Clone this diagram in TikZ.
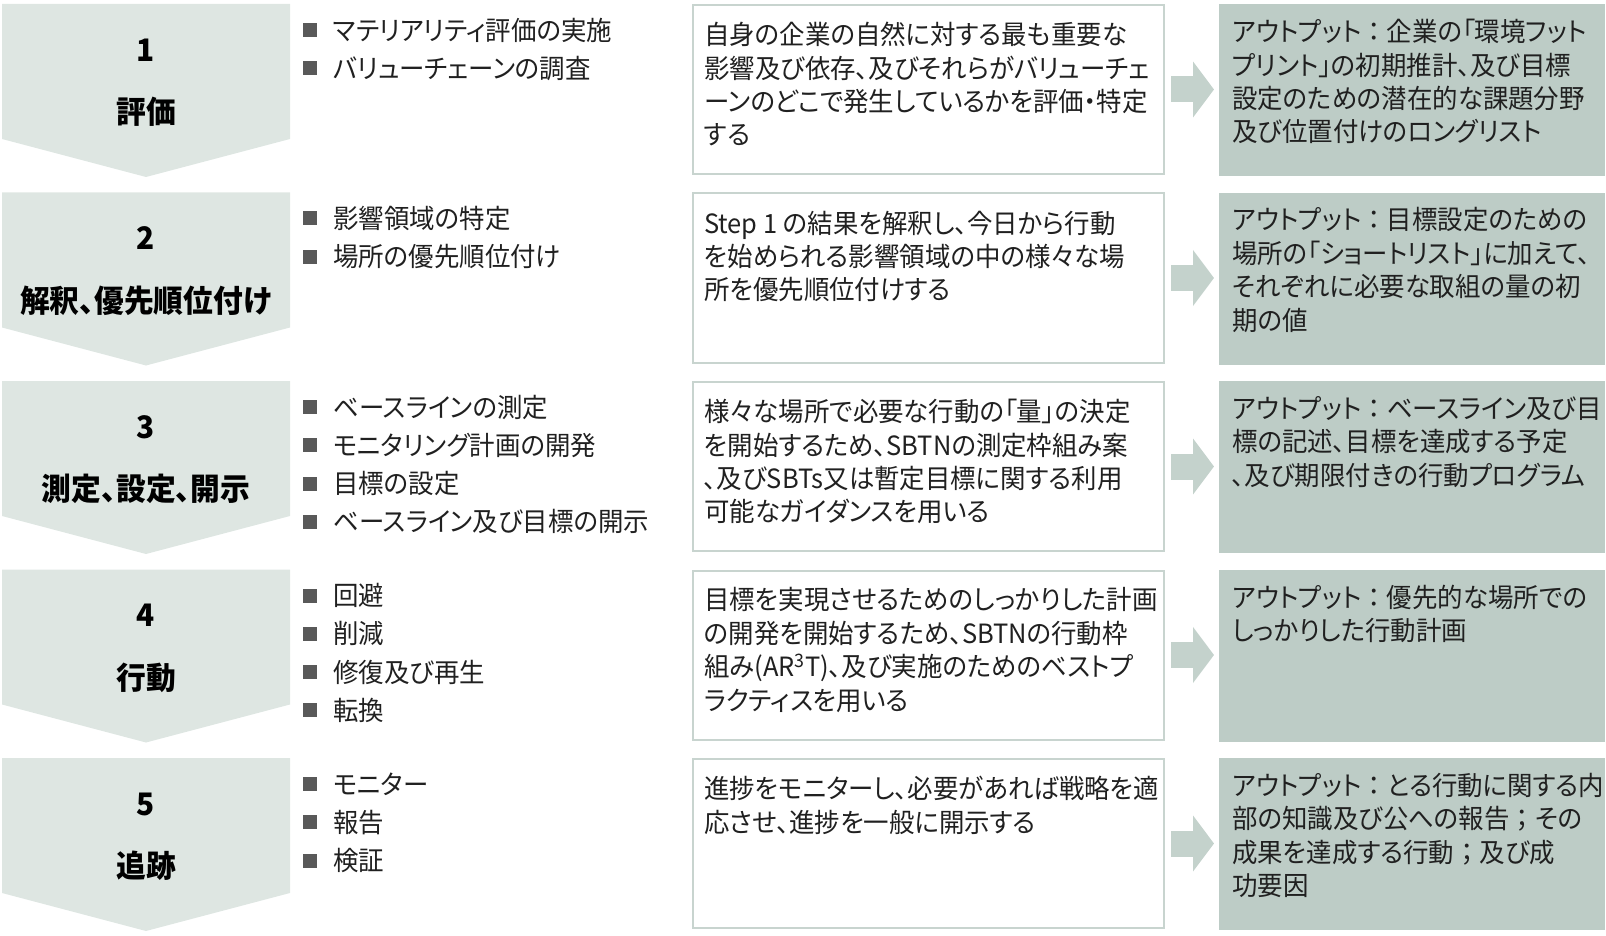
\documentclass[tikz,border=0pt]{standalone}
\usepackage{fontspec}
\setmainfont{Noto Sans CJK JP}[RawFeature=+palt, FakeStretch=0.96]
\newfontfamily\jpfull{Noto Sans CJK JP}[FakeStretch=0.96]
\usepackage{xcolor}
\usetikzlibrary{calc,positioning,arrows.meta}
\definecolor{chevfill}{RGB}{222,230,226}
\definecolor{outfill}{RGB}{189,204,198}
\definecolor{arrfill}{RGB}{196,210,204}
\definecolor{midline}{RGB}{200,212,207}
\definecolor{bulletgray}{RGB}{89,89,89}
\definecolor{txt}{RGB}{32,32,32}
\newcommand{\bodyfont}{\fontsize{26.5}{33.4}\selectfont}
\newcommand{\stepfont}{\fontsize{31}{36}\selectfont\bfseries}
\newcommand{\fcolon}{{\jpfull ：}}
\newcommand{\fsemi}{{\jpfull ；}}
\tikzset{
  midbox/.style={draw=midline, line width=2pt, fill=white, minimum width=471pt,
    minimum height=169pt, anchor=north west, inner sep=0pt},
  outbox/.style={fill=outfill, minimum width=386pt, minimum height=172pt,
    anchor=north west, inner sep=0pt},
  boxtext/.style={anchor=north west, align=left, inner sep=0pt, text=txt, font=\bodyfont},
  sqbullet/.style={fill=bulletgray, minimum size=14pt, inner sep=0pt},
  itemtext/.style={anchor=west, inner sep=0pt, text=txt, font=\bodyfont},
  steplabel/.style={font=\stepfont, text=black, inner sep=0pt},
  outarrow/.style={draw=arrfill, line width=26pt, -{Triangle[length=21pt,width=55pt]},
    shorten <=6pt, shorten >=5pt}
}
\begin{document}
\begin{tikzpicture}[x=1pt,y=-1pt]
\useasboundingbox (0,0) rectangle (1606,936);
\foreach \n/\lab in {1/評価, 2/解釈、優先順位付け, 3/測定、設定、開示, 4/行動, 5/追跡}
{
\pgfmathsetmacro\t{4+188.5*(\n-1)}
\path [fill=chevfill] (2,\t) -- (290,\t) -- (290,\t+135) -- (146,\t+173) -- (2,\t+135) -- cycle;
\node[steplabel] (num\n) at (146,\t+46) {\n};
\node[steplabel] (lab\n) at (146,\t+108) {\lab};
\node[midbox] (mid\n) at (692,\t) {};
\node[outbox] (out\n) at (1219,\t) {};
}
\foreach \n/\k/\entry in {1/0/マテリアリティ評価の実施, 1/1/バリューチェーンの調査,
  2/0/影響領域の特定, 2/1/場所の優先順位付け,
  3/0/ベースラインの測定, 3/1/モニタリング計画の開発, 3/2/目標の設定, 3/3/ベースライン及び目標の開示,
  4/0/回避, 4/1/削減, 4/2/修復及び再生, 4/3/転換,
  5/0/モニター, 5/1/報告, 5/2/検証}
{
\node[sqbullet] (sq\n\k) at (310,{4+188.5*(\n-1)+26+38.3*\k}) {};
\node[itemtext, right=16pt of sq\n\k] (item\n\k) {\entry};
}
\node[boxtext] (midtxt1) at ($(mid1.north west)+(12,18)$)
  {自身の企業の自然に対する最も重要な\\影響及び依存、及びそれらがバリューチェ\\ーンのどこで発生しているかを評価・特定\\する};
\node[boxtext] (midtxt2) at ($(mid2.north west)+(12,18)$)
  {Step 1 の結果を解釈し、今日から行動\\を始められる影響領域の中の様々な場\\所を優先順位付けする};
\node[boxtext] (midtxt3) at ($(mid3.north west)+(12,18)$)
  {様々な場所で必要な行動の「量」の決定\\を開始するため、SBTNの測定枠組み案\\、及びSBTs又は暫定目標に関する利用\\可能なガイダンスを用いる};
\node[boxtext] (midtxt4) at ($(mid4.north west)+(12,18)$)
  {目標を実現させるためのしっかりした計画\\の開発を開始するため、SBTNの行動枠\\組み(AR\textsuperscript{3}T)、及び実施のためのベストプ\\ラクティスを用いる};
\node[boxtext] (midtxt5) at ($(mid5.north west)+(12,18)$)
  {進捗をモニターし、必要があれば戦略を適\\応させ、進捗を一般に開示する};
\node[boxtext] (outtxt1) at ($(out1.north west)+(13,15)$)
  {アウトプット\fcolon 企業の「環境フット\\プリント」の初期推計、及び目標\\設定のための潜在的な課題分野\\及び位置付けのロングリスト};
\node[boxtext] (outtxt2) at ($(out2.north west)+(13,15)$)
  {アウトプット\fcolon 目標設定のための\\場所の「ショートリスト」に加えて、\\それぞれに必要な取組の量の初\\期の値};
\node[boxtext] (outtxt3) at ($(out3.north west)+(13,15)$)
  {アウトプット\fcolon ベースライン及び目\\標の記述、目標を達成する予定\\、及び期限付きの行動プログラム};
\node[boxtext] (outtxt4) at ($(out4.north west)+(13,15)$)
  {アウトプット\fcolon 優先的な場所での\\しっかりした行動計画};
\node[boxtext] (outtxt5) at ($(out5.north west)+(13,15)$)
  {アウトプット\fcolon とる行動に関する内\\部の知識及び公への報告\fsemi その\\成果を達成する行動\fsemi 及び成\\功要因};
\foreach \n in {1,...,5}
\draw[outarrow] (mid\n.east) -- (mid\n.east -| out\n.west);
\end{tikzpicture}
\end{document}
